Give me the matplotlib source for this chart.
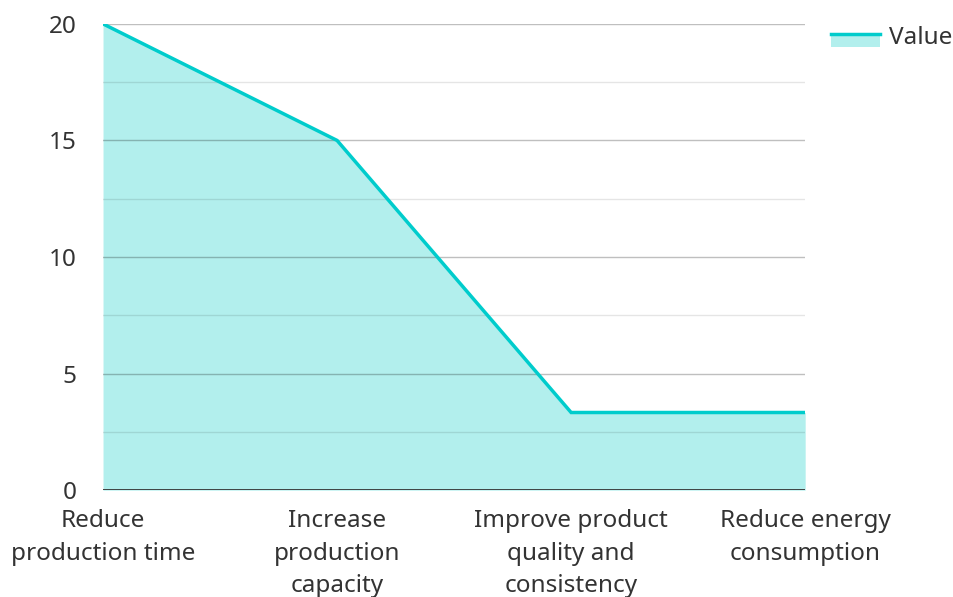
import matplotlib.pyplot as plt
from matplotlib.legend_handler import HandlerBase
from matplotlib.lines import Line2D
from matplotlib.patches import Rectangle

plt.rcParams['font.family'] = ['Noto Sans', 'DejaVu Sans']

categories = ["Reduce\nproduction time", "Increase\nproduction\ncapacity",
              "Improve product\nquality and\nconsistency", "Reduce energy\nconsumption"]
values = [20, 15, 3.33, 3.33]
series_name = "Value"

line_color = "#00cccc"
fill_color = "#b2efed"
text_color = "#333333"


class AreaHandler(HandlerBase):
    # legend key: filled box with the line along its top edge
    def create_artists(self, legend, orig_handle, xdescent, ydescent,
                       width, height, fontsize, trans):
        y0 = -ydescent - height * 0.2
        y1 = -ydescent + height * 0.55
        box = Rectangle((-xdescent, y0), width, y1 - y0,
                        facecolor=fill_color, edgecolor="none", transform=trans)
        top = Line2D([-xdescent, -xdescent + width], [y1, y1],
                     color=line_color, lw=2.5, transform=trans)
        return [box, top]


fig = plt.figure(figsize=(9.54, 5.97), dpi=100)
ax = fig.add_axes([0.108, 0.179, 0.736, 0.781])

x = list(range(len(categories)))
ax.fill_between(x, values, 0, color=fill_color, lw=0, zorder=1)
ax.plot(x, values, color=line_color, lw=2.5, zorder=3, solid_joinstyle='miter')

ax.set_xlim(0, len(categories) - 1)
ax.set_ylim(0, 20)
ax.set_yticks([0, 5, 10, 15, 20])
ax.set_xticks(x)
ax.set_xticklabels(categories, linespacing=1.48)

for y in [5, 10, 15, 20]:
    ax.axhline(y, color="#000000", alpha=0.25, lw=1, zorder=2)
for y in [2.5, 7.5, 12.5, 17.5]:
    ax.axhline(y, color="#000000", alpha=0.1, lw=1, zorder=2)
ax.axhline(0, color="#333333", lw=2, zorder=4)

for s in ax.spines.values():
    s.set_visible(False)
ax.tick_params(axis='both', which='both', length=0, labelsize=17.5,
               labelcolor=text_color)
ax.tick_params(axis='y', pad=19)
ax.tick_params(axis='x', pad=13.5)

handle = Rectangle((0, 0), 1, 1)
fig.legend([handle], [series_name], handler_map={Rectangle: AreaHandler()},
           loc='center left', bbox_to_anchor=(0.871, 0.937), frameon=False,
           fontsize=17.5, labelcolor=text_color, handlelength=2.0,
           handletextpad=0.4, borderaxespad=0, borderpad=0)

fig.savefig("out.png", dpi=100)
